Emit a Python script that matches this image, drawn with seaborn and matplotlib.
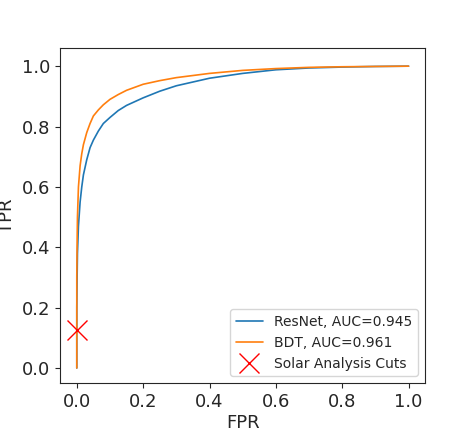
import numpy as np
import pandas as pd
import seaborn as sns
import matplotlib
matplotlib.use("Agg")
import matplotlib.pyplot as plt

sns.set_style("ticks")

resnet_fpr = [0.0, 0.0, 0.001, 0.002, 0.005, 0.01, 0.015, 0.02, 0.03, 0.04, 0.05, 0.065, 0.08, 0.1, 0.125, 0.15, 0.2, 0.25, 0.3, 0.4, 0.5, 0.6, 0.7, 0.8, 0.9, 1.0]
resnet_tpr = [0.0, 0.2, 0.3, 0.38, 0.47, 0.55, 0.60, 0.64, 0.69, 0.73, 0.755, 0.785, 0.81, 0.83, 0.853, 0.87, 0.895, 0.917, 0.935, 0.96, 0.976, 0.988, 0.994, 0.997, 0.999, 1.0]
bdt_fpr = [0.0, 0.0, 0.001, 0.002, 0.005, 0.01, 0.015, 0.02, 0.03, 0.04, 0.05, 0.065, 0.08, 0.1, 0.125, 0.15, 0.2, 0.25, 0.3, 0.4, 0.5, 0.6, 0.7, 0.8, 0.9, 1.0]
bdt_tpr = [0.0, 0.3, 0.42, 0.5, 0.6, 0.67, 0.71, 0.74, 0.78, 0.81, 0.835, 0.855, 0.872, 0.89, 0.906, 0.92, 0.94, 0.952, 0.962, 0.976, 0.986, 0.992, 0.996, 0.998, 0.999, 1.0]
cut_fpr = [0.0]
cut_tpr = [0.125]

fig = plt.figure(figsize=(4.74, 4.29), dpi=100)
ax = fig.add_axes([0.127, 0.107, 0.770, 0.781])
sns.lineplot(x=resnet_fpr, y=resnet_tpr, ax=ax, color="#1f77b4", lw=1.2,
             label="ResNet, AUC=0.945", estimator=None, sort=False)
sns.lineplot(x=bdt_fpr, y=bdt_tpr, ax=ax, color="#ff7f0e", lw=1.2,
             label="BDT, AUC=0.961", estimator=None, sort=False)
ax.plot(cut_fpr, cut_tpr, "x", color="red", ms=14, mew=1, label="Solar Analysis Cuts")
ax.set_xlim(-0.05, 1.05)
ax.set_ylim(-0.05, 1.06)
ax.set_xticks([0, 0.2, 0.4, 0.6, 0.8, 1.0])
ax.set_yticks([0, 0.2, 0.4, 0.6, 0.8, 1.0])
ax.tick_params(labelsize=13)
ax.set_xlabel("FPR", fontsize=13, labelpad=2)
ax.set_ylabel("TPR", fontsize=13)
ax.legend(loc="lower right", fontsize=10, frameon=True, fancybox=True)
fig.savefig("out.png", dpi=100)
